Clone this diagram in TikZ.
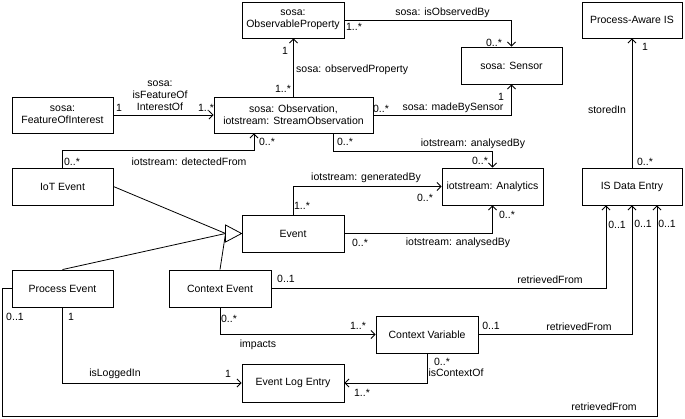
\documentclass[tikz,border=0pt]{standalone}
\usepackage{fontspec}
\setmainfont{Liberation Sans}
\usetikzlibrary{arrows.meta}
\begin{document}
\begin{tikzpicture}[x=1pt,y=-1pt,
  font=\fontsize{10.5}{12}\selectfont,
  box/.style={draw, line width=0.9pt, inner sep=0pt, align=center, minimum width=101pt, minimum height=37pt},
  conn/.style={line width=0.8pt},
  arr/.style={conn, -{Straight Barb[length=4pt,width=8pt,line width=0.8pt]}},
  lbl/.style={inner sep=0pt, align=center}]
\useasboundingbox (0,0) rectangle (685,419);
% boxes
\node[box, minimum width=102pt, minimum height=36pt] (op) at (293,20) {sosa:\\ObservableProperty};
\node[box, minimum height=36pt] (foi) at (62.5,115) {sosa:\\FeatureOfInterest};
\node[box, minimum width=159pt, minimum height=36pt] (obs) at (293.5,115) {sosa: Observation,\\iotstream: StreamObservation};
\node[box] (iot) at (62.5,186.5) {IoT Event};
\node[box, minimum width=102pt] (ev) at (293,233.5) {Event};
\node[box] (pe) at (62.5,288.5) {Process Event};
\node[box, minimum width=102pt] (ce) at (220,288.5) {Context Event};
\node[box, minimum width=102pt, minimum height=38pt] (ele) at (293,383) {Event Log Entry};
\node[box, minimum width=102pt] (cv) at (427,334.5) {Context Variable};
\node[box] (an) at (492.5,186.5) {iotstream: Analytics};
\node[box] (sen) at (511.5,65.5) {sosa: Sensor};
\node[box, minimum width=100pt, minimum height=36pt] (pais) at (632,20) {Process-Aware IS};
\node[box, minimum width=100pt] (isde) at (632,186.5) {IS Data Entry};
% generalization
\coordinate (gbase) at ([xshift=-16pt]ev.west);
\draw[conn] (iot.east) -- (gbase);
\draw[conn] (pe.north) -- (gbase);
\draw[conn] (ce.north) -- (gbase);
\draw[conn, fill=white] (ev.west) -- ++(-16,-8.5) -- ++(0,17) -- cycle;
% connectors
\draw[arr] (op.east) -| (sen.north);
\draw[arr] (obs.north) -- (obs.north |- op.south);
\draw[arr] (foi.east) -- (obs.west);
\draw[arr] (obs.east) -| (sen.south);
\draw[arr] (iot.north) -- ++(0,-17.5) -| ([xshift=-39.5pt]obs.south);
\draw[arr] ([xshift=39.5pt]obs.south) -- ++(0,18) -| (an.north);
\draw[arr] (ev.north) |- (an.west);
\draw[arr] (ev.east) -| (an.south);
\draw[arr] (ce.east) -| ([xshift=-26pt]isde.south);
\draw[arr] (cv.east) -| (isde.south);
\draw[arr] (pe.west) -- ++(-9,0) -- ++(0,127.5) -| ([xshift=25pt]isde.south);
\draw[arr] (ce.south) |- (cv.west);
\draw[arr] (pe.south) |- (ele.west);
\draw[arr] (cv.south) |- (ele.east);
\draw[arr] (isde.north) -- (pais.south);
% labels
\node[lbl] (t1) at (442.5,13) {sosa: isObservedBy};
\node[lbl] (t2) at (354,27) {1..*};
\node[lbl] (t3) at (494,43) {0..*};
\node[lbl] (t4) at (285,51) {1};
\node[lbl, anchor=west] (t5) at (296,70) {sosa: observedProperty};
\node[lbl] (t6) at (283,89) {1..*};
\node[lbl] (t7) at (160,96) {sosa:\\isFeatureOf\\InterestOf};
\node[lbl] (t8) at (119,108) {1};
\node[lbl] (t9) at (206,108) {1..*};
\node[lbl] (t10) at (381,109) {0..*};
\node[lbl] (t11) at (453,108) {sosa: madeBySensor};
\node[lbl] (t12) at (501,97) {1};
\node[lbl] (t13) at (72,162) {0..*};
\node[lbl] (t14) at (189,162) {iotstream: detectedFrom};
\node[lbl] (t15) at (267,142) {0..*};
\node[lbl] (t16) at (345,142) {0..*};
\node[lbl] (t17) at (473,144) {iotstream: analysedBy};
\node[lbl] (t18) at (480,161) {0..*};
\node[lbl] (t19) at (366,178) {iotstream: generatedBy};
\node[lbl] (t20) at (302,206) {1..*};
\node[lbl] (t21) at (425,198) {0..*};
\node[lbl] (t22) at (360,243) {0..*};
\node[lbl] (t23) at (458,243) {iotstream: analysedBy};
\node[lbl] (t24) at (507,215) {0..*};
\node[lbl] (t25) at (286,279) {0..1};
\node[lbl] (t26) at (550,280) {retrievedFrom};
\node[lbl] (t27) at (617,225) {0..1};
\node[lbl] (t28) at (643,224) {0..1};
\node[lbl] (t29) at (667,224) {0..1};
\node[lbl] (t30) at (491,326) {0..1};
\node[lbl] (t31) at (579,327) {retrievedFrom};
\node[lbl] (t32) at (15,317) {0..1};
\node[lbl] (t33) at (71,317) {1};
\node[lbl] (t34) at (229,319) {0..*};
\node[lbl] (t35) at (358,326) {1..*};
\node[lbl] (t36) at (258,345) {impacts};
\node[lbl] (t37) at (115,374) {isLoggedIn};
\node[lbl] (t38) at (228,374) {1};
\node[lbl] (t39) at (442,362) {0..*};
\node[lbl] (t40) at (456,373) {isContextOf};
\node[lbl] (t41) at (362,393) {1..*};
\node[lbl] (t42) at (604,407) {retrievedFrom};
\node[lbl] (t43) at (645,47) {1};
\node[lbl] (t44) at (645,162) {0..*};
\node[lbl] (t45) at (607,110) {storedIn};
\end{tikzpicture}
\end{document}
